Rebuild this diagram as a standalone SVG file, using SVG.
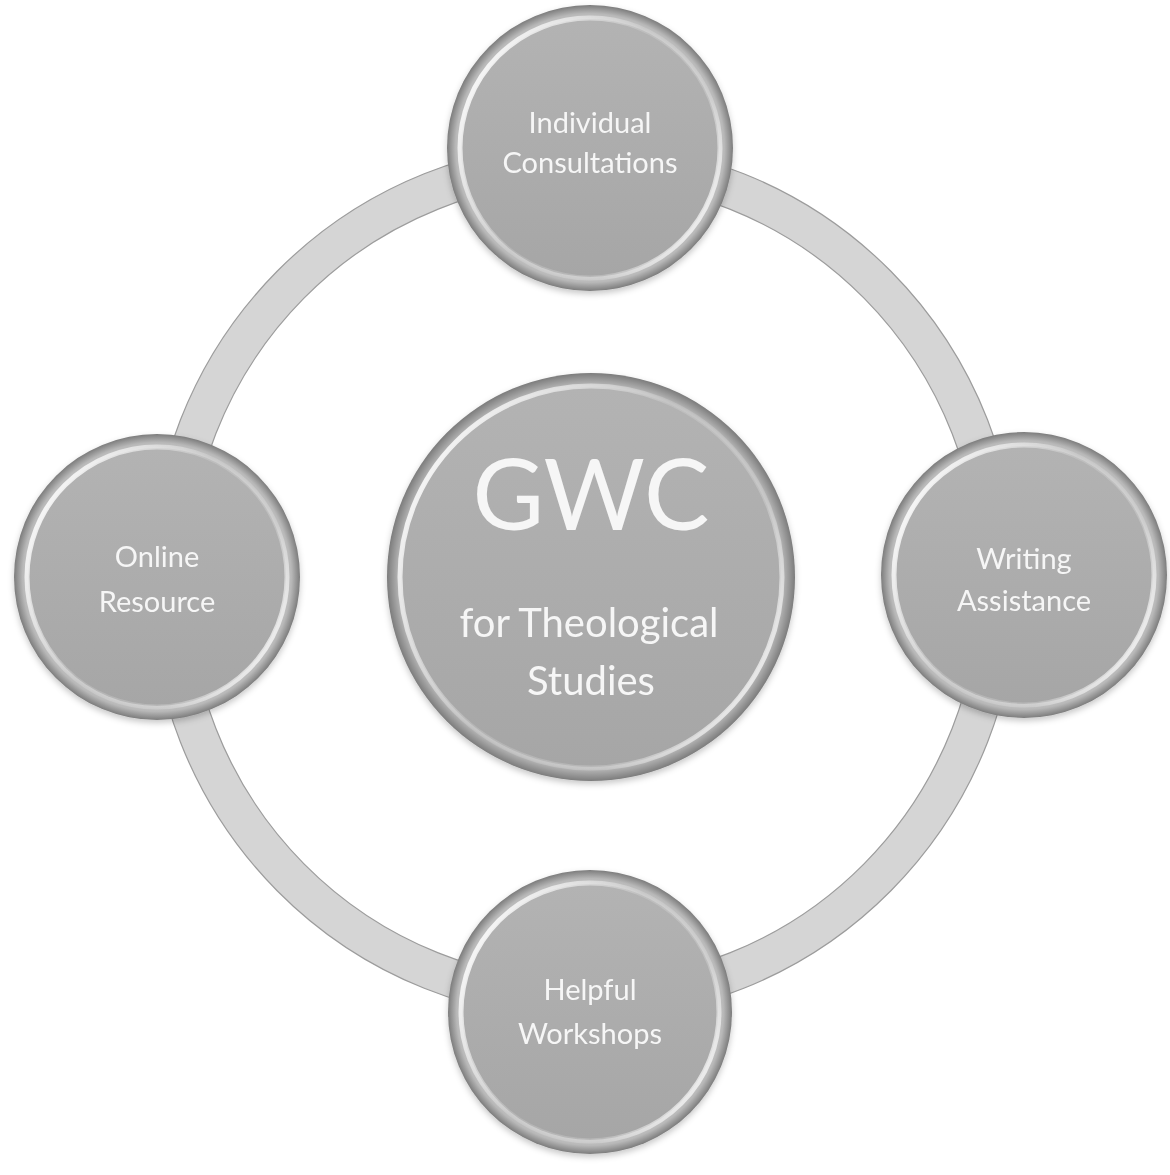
<svg xmlns="http://www.w3.org/2000/svg" width="1170" height="1175" viewBox="0 0 1170 1175">
<style>
.lbl{font-family:"Lato","Open Sans","Liberation Sans",sans-serif;fill:#f6f6f6;text-anchor:middle}
.ring{fill:none;stroke:#d5d5d5;stroke-width:38}
.ringedge{fill:none;stroke:#9c9c9c;stroke-width:1.2}
.face{fill:url(#face)}
.rim{fill:url(#rim)}
.bevel{fill:none;stroke:url(#bevel);stroke-width:5}
</style>
<defs>
<radialGradient id="rim" cx="50%" cy="50%" r="50%">
<stop offset="0.86" stop-color="#d4d4d4"/>
<stop offset="0.94" stop-color="#b8b8b8"/>
<stop offset="1" stop-color="#7c7c7c"/>
</radialGradient>
<linearGradient id="face" x1="0" y1="0" x2="0" y2="1">
<stop offset="0" stop-color="#b3b3b3"/>
<stop offset="1" stop-color="#a6a6a6"/>
</linearGradient>
<linearGradient id="bevel" x1="0" y1="0.2" x2="1" y2="0.8">
<stop offset="0" stop-color="#ffffff" stop-opacity="0.95"/>
<stop offset="0.45" stop-color="#ffffff" stop-opacity="0.15"/>
<stop offset="0.75" stop-color="#ffffff" stop-opacity="0.2"/>
<stop offset="1" stop-color="#ffffff" stop-opacity="0.85"/>
</linearGradient>
<filter id="sh" x="-10%" y="-10%" width="120%" height="125%">
<feDropShadow dx="0" dy="3" stdDeviation="3" flood-color="#000" flood-opacity="0.22"/>
</filter>
</defs>
<rect width="1170" height="1175" fill="#ffffff"/>
<g id="connectors">
<ellipse class="ring" cx="584" cy="581" rx="415" ry="419"/>
<ellipse class="ringedge" cx="584" cy="581" rx="434" ry="438"/>
<ellipse class="ringedge" cx="584" cy="581" rx="396" ry="400"/>
</g>
<g id="node-center" filter="url(#sh)">
<circle class="rim" cx="591" cy="577" r="204"/>
<circle class="face" cx="591" cy="577" r="190"/>
<circle class="bevel" cx="591" cy="577" r="191"/>
<text class="lbl" x="591" y="530" font-size="98">GWC</text>
<text class="lbl" x="589" y="637" font-size="40">for Theological</text>
<text class="lbl" x="591" y="695" font-size="40">Studies</text>
</g>
<g id="node-top" filter="url(#sh)">
<circle class="rim" cx="590" cy="148" r="143"/>
<circle class="face" cx="590" cy="148" r="129"/>
<circle class="bevel" cx="590" cy="148" r="130"/>
<text class="lbl" x="590" y="133" font-size="29">Individual</text>
<text class="lbl" x="590" y="173" font-size="29">Consultations</text>
</g>
<g id="node-left" filter="url(#sh)">
<circle class="rim" cx="157" cy="577" r="143"/>
<circle class="face" cx="157" cy="577" r="129"/>
<circle class="bevel" cx="157" cy="577" r="130"/>
<text class="lbl" x="157" y="567" font-size="29">Online</text>
<text class="lbl" x="157" y="612" font-size="29">Resource</text>
</g>
<g id="node-right" filter="url(#sh)">
<circle class="rim" cx="1024" cy="575" r="143"/>
<circle class="face" cx="1024" cy="575" r="129"/>
<circle class="bevel" cx="1024" cy="575" r="130"/>
<text class="lbl" x="1024" y="569" font-size="29">Writing</text>
<text class="lbl" x="1024" y="611" font-size="29">Assistance</text>
</g>
<g id="node-bottom" filter="url(#sh)">
<circle class="rim" cx="590" cy="1012" r="142"/>
<circle class="face" cx="590" cy="1012" r="128"/>
<circle class="bevel" cx="590" cy="1012" r="129"/>
<text class="lbl" x="590" y="1000" font-size="29">Helpful</text>
<text class="lbl" x="590" y="1044" font-size="29">Workshops</text>
</g>
</svg>
